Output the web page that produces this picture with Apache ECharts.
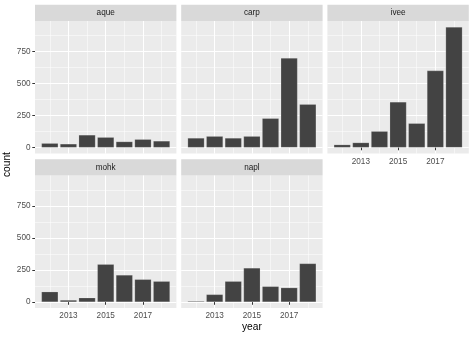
<!DOCTYPE html>
<html><head><meta charset="utf-8">
<script src="https://cdn.jsdelivr.net/npm/echarts@6/dist/echarts.min.js"></script>
<style>html,body{margin:0;padding:0;background:#fff}#c{width:474px;height:338px}</style>
</head><body><div id="c"></div>
<script>
// ---- data ----
const years = [2012, 2013, 2014, 2015, 2016, 2017, 2018];
const sites = ['aque', 'carp', 'ivee', 'mohk', 'napl'];
const aque = [34, 29, 99, 81, 47, 65, 52];
const carp = [75, 89, 75, 89, 229, 700, 339];
const ivee = [23, 39, 128, 357, 190, 602, 943];
const mohk = [81, 16, 34, 296, 212, 178, 163];
const napl = [8, 60, 163, 267, 123, 113, 302];
const xMajorTicks = [2013, 2015, 2017];
const xMinorTicks = [2012, 2014, 2016, 2018];
const yMajorTicks = [0, 250, 500, 750];
const yMinorTicks = [125, 375, 625, 875];
const siteValues = { aque, carp, ivee, mohk, napl };

// ---- layout ----
const FONT = '"Liberation Sans", Arial, sans-serif';
const colLeft = [35, 181.2, 327.4];
const panelW = 141.4;
const rowTop = [21, 175.5];
const panelH = 132.6;
const stripH = 16.3;

const lo = years[0] - 0.45, hi = years[years.length - 1] + 0.45;
const xPad = 0.05 * (hi - lo);
const xMin = lo - xPad, xMax = hi + xPad;
const yTop = Math.max(...sites.flatMap(s => siteValues[s]));
const yMin = -0.05 * yTop, yMax = 1.05 * yTop;
const barW = panelW / (xMax - xMin) * 0.9;

const grid = [], xAxis = [], yAxis = [], series = [], graphic = [];
sites.forEach((s, i) => {
  const col = i % 3, row = Math.floor(i / 3);
  const showX = i + 3 >= sites.length;
  const showY = col === 0;
  const left = colLeft[col], top = rowTop[row];
  grid.push({ left, top, width: panelW, height: panelH, show: true,
    backgroundColor: '#EBEBEB', borderWidth: 0, containLabel: false });
  xAxis.push({ gridIndex: i, type: 'value', min: xMin, max: xMax, position: 'bottom',
    axisLine: { show: false },
    axisTick: { show: showX, customValues: xMajorTicks, length: 2.7, lineStyle: { color: '#333', width: 1 } },
    axisLabel: { show: showX, customValues: xMajorTicks, margin: 4, color: '#4D4D4D', fontSize: 8.2, fontFamily: FONT, formatter: v => String(v) },
    splitLine: { show: true, lineStyle: { color: '#FFFFFF', width: 1.07 } } });
  xAxis.push({ gridIndex: i, type: 'value', min: xMin, max: xMax, position: 'top',
    axisLine: { show: false },
    axisTick: { show: false, customValues: xMinorTicks },
    axisLabel: { show: false, customValues: xMinorTicks },
    splitLine: { show: true, lineStyle: { color: '#FFFFFF', width: 0.53 } } });
  yAxis.push({ gridIndex: i, type: 'value', min: yMin, max: yMax, position: 'left',
    axisLine: { show: false },
    axisTick: { show: showY, customValues: yMajorTicks, length: 2.7, lineStyle: { color: '#333', width: 1 } },
    axisLabel: { show: showY, customValues: yMajorTicks, margin: 4.5, color: '#4D4D4D', fontSize: 8.2, fontFamily: FONT, formatter: v => String(v) },
    splitLine: { show: true, lineStyle: { color: '#FFFFFF', width: 1.07 } } });
  yAxis.push({ gridIndex: i, type: 'value', min: yMin, max: yMax, position: 'right',
    axisLine: { show: false },
    axisTick: { show: false, customValues: yMinorTicks },
    axisLabel: { show: false, customValues: yMinorTicks },
    splitLine: { show: true, lineStyle: { color: '#FFFFFF', width: 0.53 } } });
  series.push({ type: 'bar', name: s, xAxisIndex: 2 * i, yAxisIndex: 2 * i,
    barWidth: barW, silent: true,
    itemStyle: { color: '#434343', borderColor: 'rgba(255,255,255,0.35)', borderWidth: 0.5 },
    data: years.map((y, k) => [y, siteValues[s][k]]) });
  graphic.push({ type: 'rect', silent: true,
    shape: { x: left, y: top - stripH, width: panelW, height: stripH },
    style: { fill: '#D9D9D9' } });
  graphic.push({ type: 'text', silent: true, x: left + panelW / 2, y: top - stripH / 2,
    style: { text: s, fill: '#1A1A1A', font: '8.2px ' + FONT, textAlign: 'center', textVerticalAlign: 'middle' } });
});
graphic.push({ type: 'text', silent: true, x: 7, y: (rowTop[0] + rowTop[1] + panelH) / 2, rotation: Math.PI / 2,
  style: { text: 'count', fill: '#000', font: '10.2px ' + FONT, textAlign: 'center', textVerticalAlign: 'middle' } });
graphic.push({ type: 'text', silent: true, x: (colLeft[0] + colLeft[2] + panelW) / 2, y: 327.5,
  style: { text: 'year', fill: '#000', font: '10.2px ' + FONT, textAlign: 'center', textVerticalAlign: 'middle' } });

const chart = echarts.init(document.getElementById('c'), null, { renderer: 'canvas' });
chart.setOption({ animation: false, backgroundColor: '#FFFFFF', grid, xAxis, yAxis, series, graphic });
</script>
</body></html>
